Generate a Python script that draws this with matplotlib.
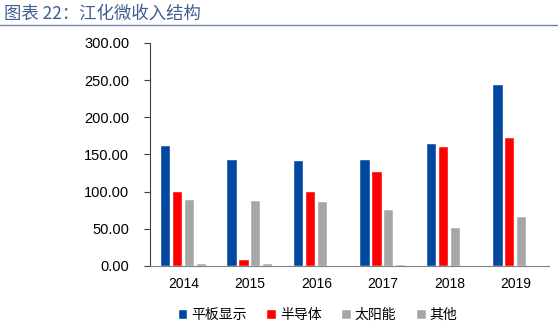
import numpy as np
import matplotlib.pyplot as plt

plt.rcParams['font.family'] = ['Liberation Sans', 'Noto Sans CJK SC', 'DejaVu Sans']

years = ['2014', '2015', '2016', '2017', '2018', '2019']
series = ['平板显示', '半导体', '太阳能', '其他']
panel = [162, 143, 141, 143, 164, 243]
semi = [99, 8, 99, 127, 160, 172]
solar = [89, 87, 86, 75, 51, 66]
other = [2, 3, 0.5, 1.5, 0, 0]
colors = ['#0047a0', '#ff0000', '#a6a6a6', '#a6a6a6']

fig = plt.figure(figsize=(5.58, 3.3), dpi=100)
ax = fig.add_axes([0.269, 0.194, 0.715, 0.676])

x = np.arange(len(years))
w = 0.14
step = 0.18
for i, (vals, c, name) in enumerate(zip([panel, semi, solar, other], colors, series)):
    ax.bar(x + (i - 1.5) * step, vals, w, color=c, label=name, edgecolor='white', linewidth=0.3)

ax.set_xlim(-0.5, 5.5)
ax.set_ylim(0, 300)
ax.set_yticks(np.arange(0, 301, 50))
ax.set_yticklabels(['%.2f' % v for v in np.arange(0, 301, 50)], fontsize=10.5)
ax.set_xticks(x)
ax.set_xticklabels(years, fontsize=10)
ax.tick_params(axis='x', length=0, pad=8)
ax.tick_params(axis='y', direction='out', length=4, color='#404040', pad=11)
for s in ['top', 'right']:
    ax.spines[s].set_visible(False)
ax.spines['left'].set_color('#404040')
ax.spines['bottom'].set_color('#808080')

fig.text(0.008, 0.958, '图表 22：江化微收入结构', fontsize=12.5, color='#3f5f8f',
         family=['Noto Sans CJK SC', 'DejaVu Sans'], va='center')
fig.add_artist(plt.Line2D([0.0, 1.0], [0.923, 0.923], color='#6d86ad', linewidth=1))

fig.legend(loc='center', bbox_to_anchor=(0.57, 0.045), ncol=4, frameon=False,
           handlelength=0.6, handleheight=0.6, handletextpad=0.3,
           columnspacing=1.5, prop={'family': ['Noto Sans CJK SC', 'DejaVu Sans'], 'size': 10})

fig.savefig('out.png', dpi=100)
